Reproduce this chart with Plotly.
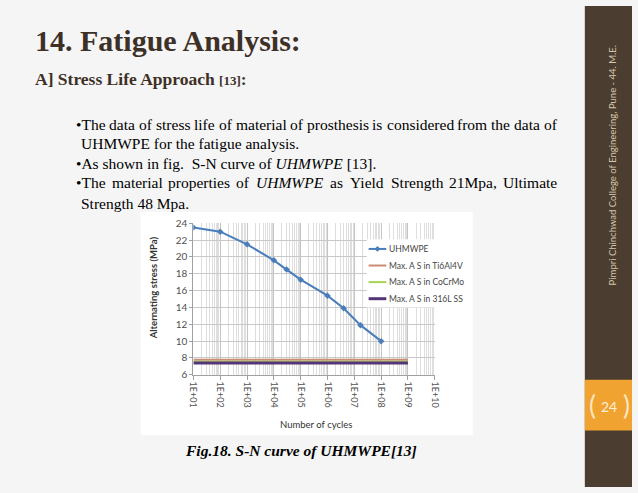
import plotly.graph_objects as go

# ---------------- data ----------------
cycles = [1e1, 1e2, 1e3, 1e4, 3e4, 1e5, 1e6, 4e6, 1.7e7, 1e8]
uhmwpe_stress = [23.5, 23.0, 21.5, 19.6, 18.5, 17.3, 15.4, 13.9, 11.9, 10.0]
limit_cycles = [1e1, 1e9]
ti_stress = [7.8, 7.8]
cocr_stress = [7.55, 7.55]
ss_stress = [7.4, 7.4]
series_names = ["UHMWPE", "Max. A S in Ti6Al4V", "Max. A S in CoCrMo", "Max. A S in 316L SS"]
series_colors = ["#4a7ebb", "#c98c74", "#a6d453", "#55357a"]
x_tickvals = [10 ** k for k in range(1, 11)]
x_ticktext = ["1E+01", "1E+02", "1E+03", "1E+04", "1E+05", "1E+06", "1E+07", "1E+08", "1E+09", "1E+10"]
y_tickvals = [6, 8, 10, 12, 14, 16, 18, 20, 22, 24]

W, H = 638, 493


def px(x):
    return x / W


def py(y):
    return 1 - y / H


fig = go.Figure()
fig.add_trace(go.Scatter(x=cycles, y=uhmwpe_stress, name=series_names[0], mode="lines+markers",
                         line=dict(color=series_colors[0], width=2),
                         marker=dict(symbol="diamond", size=5, color=series_colors[0])))
fig.add_trace(go.Scatter(x=limit_cycles, y=ti_stress, name=series_names[1], mode="lines",
                         line=dict(color=series_colors[1], width=2)))
fig.add_trace(go.Scatter(x=limit_cycles, y=cocr_stress, name=series_names[2], mode="lines",
                         line=dict(color=series_colors[2], width=2)))
fig.add_trace(go.Scatter(x=limit_cycles, y=ss_stress, name=series_names[3], mode="lines",
                         line=dict(color=series_colors[3], width=3)))

minor_vals = [m * 10 ** k for k in range(1, 10) for m in range(2, 10)]

fig.update_layout(
    width=W, height=H, margin=dict(l=0, r=0, t=0, b=0),
    paper_bgcolor="#f5f5f5", plot_bgcolor="white",
    xaxis=dict(type="log", range=[1, 10], domain=[px(191.7), px(437.3)],
               tickmode="array", tickvals=x_tickvals, ticktext=x_ticktext, tickangle=90,
               showgrid=True, gridcolor="#c4c4c4", gridwidth=1,
               minor=dict(tickmode="array", tickvals=minor_vals, showgrid=True, gridcolor="#dedede", ticks=""),
               ticks="outside", ticklen=4, tickcolor="#a0a0a0",
               showline=True, linecolor="#a0a0a0", zeroline=False,
               tickfont=dict(family="Lato", size=9, color="#505050")),
    yaxis=dict(range=[6, 24], domain=[py(378), py(222.7)], tickmode="array", tickvals=y_tickvals,
               showgrid=True, gridcolor="#c8c8c8", showline=True, linecolor="#a0a0a0",
               ticks="outside", ticklen=3, tickcolor="#a0a0a0", zeroline=False,
               tickfont=dict(family="Lato", size=10, color="#505050")),
    showlegend=False,
)

shapes = []
# chart picture background
shapes.append(dict(type="rect", xref="paper", yref="paper", x0=px(138), x1=px(476), y0=py(440), y1=py(211),
                   fillcolor="white", line=dict(width=0), layer="below"))
# sidebar
shapes.append(dict(type="rect", xref="paper", yref="paper", x0=px(590), x1=1, y0=0, y1=1,
                   fillcolor="#4b3d30", line=dict(width=0), layer="below"))
shapes.append(dict(type="rect", xref="paper", yref="paper", x0=px(590), x1=1, y0=py(435), y1=py(383),
                   fillcolor="#f0a330", line=dict(width=0), layer="below"))

ann = []


def add_text(x, y, text, size, color="black", family="Liberation Serif", xanchor="left", angle=0):
    ann.append(dict(x=px(x), y=py(y), xref="paper", yref="paper", text=text, showarrow=False,
                    xanchor=xanchor, yanchor="middle", textangle=angle,
                    font=dict(family=family, size=size, color=color)))


# manual legend (inside chart)
shapes.append(dict(type="rect", xref="paper", yref="paper", x0=px(368), x1=px(470), y0=py(309), y1=py(239),
                   fillcolor="white", line=dict(width=0), layer="above"))
legend_rows = [249, 266, 283, 300]
legend_widths = [2, 2, 2, 3]
for name, col, ly, lw in zip(series_names, series_colors, legend_rows, legend_widths):
    shapes.append(dict(type="line", xref="paper", yref="paper", x0=px(370), x1=px(388), y0=py(ly), y1=py(ly),
                       line=dict(color=col, width=lw), layer="above"))
    add_text(388.5, ly, name, 8.5, color="#454545", family="Lato")
d = 3
cx, cy = 379, legend_rows[0]
shapes.append(dict(type="path", xref="paper", yref="paper",
                   path="M %f %f L %f %f L %f %f L %f %f Z" % (px(cx), py(cy - d), px(cx + d), py(cy),
                                                               px(cx), py(cy + d), px(cx - d), py(cy)),
                   fillcolor=series_colors[0], line=dict(width=0), layer="above"))
fig.update_layout(shapes=shapes)

# title & subtitle
add_text(28, 35, "<b>14. Fatigue Analysis:</b>", 30, color="#3d3027")
add_text(28, 75, "<b>A] Stress Life Approach <span style='font-size:13px'>[13]</span>:</b>", 17.5, color="#3d3027")

# Times metrics for justification
TW = {}
for ch, w in zip("abcdefghijklmnopqrstuvwxyz",
                 [444, 500, 444, 500, 444, 333, 500, 500, 278, 278, 500, 278, 778, 500, 500, 500, 500, 333, 389, 278,
                  500, 500, 722, 500, 500, 444]):
    TW[ch] = w
for ch, w in zip("ABCDEFGHIJKLMNOPQRSTUVWXYZ",
                 [722, 667, 667, 722, 611, 556, 722, 722, 333, 389, 722, 611, 889, 722, 722, 556, 722, 667, 556, 611,
                  722, 722, 944, 722, 722, 611]):
    TW[ch] = w
for ch in "0123456789":
    TW[ch] = 500
TW.update({" ": 250, ".": 250, ",": 250, ":": 278, "-": 333, "[": 333, "]": 333, "•": 350, "(": 333, ")": 333})

FS = 15.5


def word_w(word):
    return sum(TW.get(c, 500) for c in word) * FS / 1000


def justify(words, x0, x1, y, italic=()):
    widths = [word_w(w) for w in words]
    gap = (x1 - x0 - sum(widths)) / (len(words) - 1)
    x = x0
    for i, w in enumerate(words):
        t = "<i>%s</i>" % w if i in italic else w
        add_text(x - 1, y, t, FS)
        x += widths[i] + gap


justify("•The data of stress life of material of prosthesis is considered from the data of".split(), 71, 560, 121)
add_text(75, 141, "UHMWPE for the fatigue analysis.", FS)
add_text(70, 161, "•As shown in fig.  S-N curve of <i>UHMWPE</i> [13].", FS)
justify("•The material properties of UHMWPE as Yield Strength 21Mpa, Ultimate".split(), 71, 560, 181, italic=(4,))
add_text(75, 202, "Strength 48 Mpa.", FS)

# caption
add_text(301, 456, "<b><i>Fig.18. S-N curve of UHMWPE[13]</i></b>", FS, xanchor="center")

# axis titles
add_text(316, 429, "Number of cycles", 9.5, color="#333333", family="Lato", xanchor="center")
add_text(152, 289, "<b>Alternating stress (MPa)</b>", 9.5, color="#333333", family="Lato", xanchor="center", angle=-90)

# sidebar texts
add_text(618, 163, "Pimpri Chinchwad College of Engineering, Pune - 44. M.E.", 9.5, color="#d6c6a8",
         family="Lato", xanchor="center", angle=-90)
add_text(615, 410, "24", 14, color="#fdf0d8", family="Lato", xanchor="center")
add_text(598, 409, "(", 26, color="#fbe6c0", family="Lato", xanchor="center")
add_text(632, 409, ")", 26, color="#fbe6c0", family="Lato", xanchor="center")

fig.update_layout(annotations=ann)

fig.write_html("out.html", config={"displayModeBar": False},
               post_script="document.body.style.margin='0';document.body.style.overflow='hidden';")
